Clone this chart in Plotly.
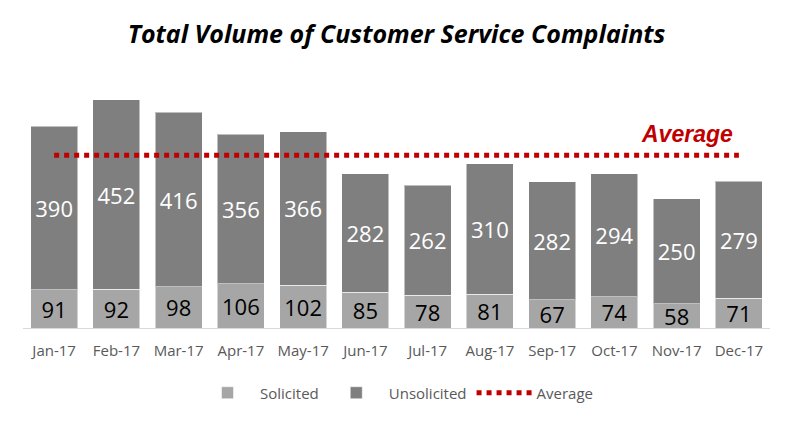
import plotly.graph_objects as go

months = ["Jan-17", "Feb-17", "Mar-17", "Apr-17", "May-17", "Jun-17",
          "Jul-17", "Aug-17", "Sep-17", "Oct-17", "Nov-17", "Dec-17"]
solicited = [91, 92, 98, 106, 102, 85, 78, 81, 67, 74, 58, 71]
unsolicited = [390, 452, 416, 356, 366, 282, 262, 310, 282, 294, 250, 279]

totals = [s + u for s, u in zip(solicited, unsolicited)]
avg_value = sum(totals) / len(totals)
average = [avg_value] * len(months)

LABEL_FONT = "Open Sans, Liberation Sans, sans-serif"

fig = go.Figure()
fig.add_trace(go.Bar(
    x=months, y=solicited, name="Solicited",
    marker=dict(color="#A6A6A6", line=dict(color="rgba(255,255,255,0.5)", width=1)),
    text=solicited, textposition="inside", insidetextanchor="middle",
    constraintext="none", textangle=0,
    textfont=dict(color="#000000", size=22, family=LABEL_FONT),
))
fig.add_trace(go.Bar(
    x=months, y=unsolicited, name="Unsolicited",
    marker=dict(color="#7F7F7F", line=dict(color="rgba(255,255,255,0.5)", width=1)),
    text=unsolicited, textposition="inside", insidetextanchor="middle",
    constraintext="none", textangle=0,
    textfont=dict(color="#FFFFFF", size=22, family=LABEL_FONT),
))
fig.add_trace(go.Scatter(
    x=months, y=average, name="Average", mode="lines",
    line=dict(color="#C00000", width=5, dash="5px,5px"),
))

fig.add_annotation(
    x=1.0, xref="paper", xanchor="right", xshift=-35,
    y=avg_value, yref="y", yanchor="bottom", yshift=6,
    text="<b><i>Average</i></b>", showarrow=False,
    font=dict(family="Liberation Sans, Arial, sans-serif", size=23, color="#C00000"),
)

fig.update_layout(
    width=793, height=425,
    barmode="stack", bargap=0.245,
    paper_bgcolor="white", plot_bgcolor="white",
    margin=dict(l=23, r=23, t=90, b=97),
    title=dict(
        text="<b><i>Total Volume of Customer Service Complaints</i></b>",
        x=0.5, xanchor="center", y=1 - 34 / 425, yanchor="middle",
        font=dict(family=LABEL_FONT, size=25, color="#000000"),
    ),
    xaxis=dict(
        showline=True, linecolor="#D9D9D9", linewidth=1,
        showgrid=False, ticks="", ticklabelstandoff=9,
        tickfont=dict(family=LABEL_FONT, size=15, color="#595959"),
    ),
    yaxis=dict(range=[0, 567], visible=False, showgrid=False),
    legend=dict(
        orientation="h", x=0.5, xanchor="center", y=-0.273, yanchor="middle",
        font=dict(family=LABEL_FONT, size=15, color="#595959"),
        traceorder="normal", itemwidth=55,
    ),
    showlegend=True,
)

fig.write_html("out.html")
